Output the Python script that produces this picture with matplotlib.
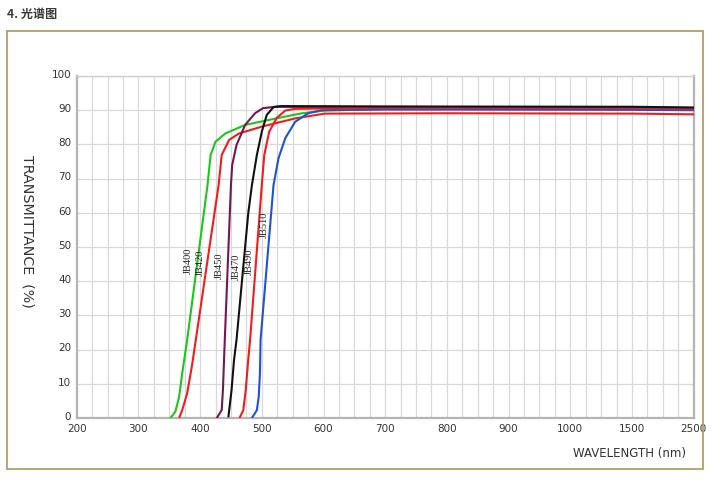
import numpy as np
import matplotlib
matplotlib.use('Agg')
import matplotlib.pyplot as plt
from matplotlib.patches import Rectangle
from matplotlib.transforms import ScaledTranslation

# wavelength axis: equal spacing per tick, non-linear above 1000 nm
tick_wl = [200, 300, 400, 500, 600, 700, 800, 900, 1000, 1500, 2500]
tick_lbl = ['200', '300', '400', '500', '600', '700', '800', '900', '1000', '1500', '2500']
tick_pos = np.arange(len(tick_wl), dtype=float)

# filter curves (wavelength nm, transmittance %)
jb400_wl = [352, 360, 366, 371, 379, 412, 417, 425, 441, 473, 526, 565, 602, 700, 900, 1500, 2500]
jb400_t = [0, 1.9, 6.2, 13, 22.8, 68.1, 76.9, 80.8, 83.2, 85.7, 87.7, 89.1, 89.9, 90.3, 90.4, 90.3, 90.2]

jb420_wl = [366, 371, 379, 387, 393, 430, 435, 447, 463, 500, 554, 602, 800, 1500, 2500]
jb420_t = [0, 2.3, 7.2, 15.5, 22.8, 68.1, 76.9, 81.3, 83.2, 85.2, 87.6, 89.0, 89.1, 89.0, 88.8]

jb450_wl = [427, 435, 437, 440, 450, 452, 459, 473, 489, 502, 522, 700, 1500, 2500]
jb450_t = [0, 2.3, 8.2, 22.8, 68.1, 74.0, 79.8, 85.7, 89.1, 90.6, 91.0, 90.9, 90.8, 90.6]

jb470_wl = [446, 451, 455, 459, 478, 484, 492, 500, 508, 519, 530, 700, 1500, 2500]
jb470_t = [0.5, 8.2, 17, 22.8, 59.8, 68.1, 76.9, 83.7, 88.6, 90.9, 91.2, 91.1, 91.0, 90.8]

jb490_wl = [464, 470, 474, 478, 481, 500, 504, 512, 524, 538, 554, 700, 1500, 2500]
jb490_t = [0, 2.3, 8.2, 17, 22.8, 68.1, 76.9, 83.7, 87.7, 89.9, 90.4, 90.7, 90.6, 90.5]

jb510_wl = [484, 492, 495, 497, 498, 519, 527, 538, 554, 575, 597, 700, 1500, 2500]
jb510_t = [0, 2.3, 6.2, 13, 22.8, 68.1, 75.9, 81.8, 86.6, 89.1, 90.0, 90.2, 90.1, 90.0]

names = ['JB400', 'JB420', 'JB450', 'JB470', 'JB490', 'JB510']
curves = [(jb400_wl, jb400_t), (jb420_wl, jb420_t), (jb450_wl, jb450_t),
          (jb470_wl, jb470_t), (jb490_wl, jb490_t), (jb510_wl, jb510_t)]
colors = ['#1fc41f', '#f21c1c', '#74184e', '#111111', '#f21c1c', '#1f52d8']
zorders = [3, 3, 4, 6, 4, 3]
# label anchor (wavelength, %)
lbl_wl = [381, 400, 431, 458, 479, 504]
lbl_t = [46.0, 45.5, 44.4, 44.2, 45.6, 56.4]


def fwd(x):
    return np.interp(x, tick_wl, tick_pos)


def inv(p):
    return np.interp(p, tick_pos, tick_wl)


fig = plt.figure(figsize=(7.18, 4.78), dpi=100)
ax = fig.add_axes([76.7 / 718, 1 - 418 / 478, (693.7 - 76.7) / 718, (418 - 76) / 478])
ax.set_xscale('function', functions=(fwd, inv))

for (wl, t), c, z in zip(curves, colors, zorders):
    ax.plot(wl, t, color=c, lw=1.5, zorder=z, solid_joinstyle='round')

for n, x, y in zip(names, lbl_wl, lbl_t):
    ax.text(x, y, n, rotation=90, ha='center', va='center', fontsize=7.5,
            family='Liberation Serif', color='#222222', zorder=7)

ax.set_xlim(200, 2500)
ax.set_ylim(0, 100)
ax.set_xticks(tick_wl)
ax.set_xticklabels(tick_lbl)
ax.set_xticks(inv(np.arange(0, 10.01, 0.25)), minor=True)
ax.set_yticks(np.arange(0, 101, 10))
ax.tick_params(which='both', length=0, labelsize=7.5, colors='#333333')
ax.tick_params(axis='x', pad=4)
ax.tick_params(axis='y', pad=4)
# y labels sit a little above their gridlines in the original
up = ScaledTranslation(0, 0.022, fig.dpi_scale_trans)
for lab in ax.get_yticklabels():
    lab.set_transform(lab.get_transform() + up)
ax.grid(True, which='both', axis='x', color='#d9d9d9', lw=0.9)
ax.grid(True, which='major', axis='y', color='#d9d9d9', lw=0.9)
ax.set_axisbelow(True)
for s in ['left', 'bottom', 'right']:
    ax.spines[s].set_color('#b5b5b5')
    ax.spines[s].set_linewidth(1.6)
ax.spines['top'].set_color('#cfcfcf')
ax.spines['top'].set_linewidth(1.0)

fig.text(27 / 718, 1 - 231 / 478, 'TRANSMITTANCE  (%)', rotation=270,
         ha='center', va='center', fontsize=10.3, color='#333333')
fig.text(686 / 718, 1 - 453 / 478, 'WAVELENGTH (nm)', ha='right', va='center',
         fontsize=8.5, color='#333333')
fig.text(7 / 718, 1 - 14 / 478, '4. 光谱图', ha='left', va='center', fontsize=8.7,
         fontweight='bold', family=['Noto Sans CJK SC', 'DejaVu Sans'], color='#3a3a3a')

fig.patches.append(Rectangle((7 / 718, 1 - 469 / 478), (703 - 7) / 718, (469 - 31) / 478,
                             transform=fig.transFigure, fill=False,
                             edgecolor='#b89c62', lw=1.3))

fig.savefig('out.png', dpi=100)
